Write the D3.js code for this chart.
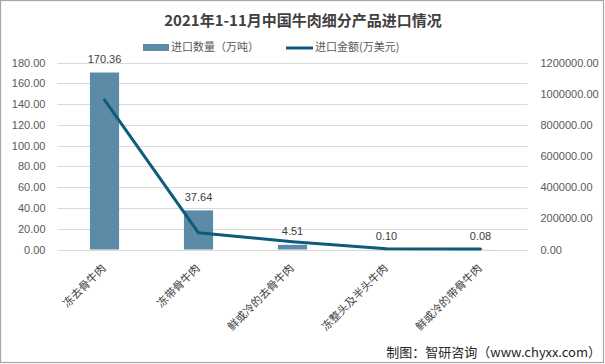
<!DOCTYPE html>
<html><head><meta charset="utf-8">
<script src="https://cdn.jsdelivr.net/npm/d3@7"></script>
<style>
html,body{margin:0;padding:0;background:#fff;}
svg{display:block;}
text{font-family:"Liberation Sans","Noto Sans CJK SC",sans-serif;}
.cjk{font-family:"Noto Sans CJK SC","Noto Sans",sans-serif;}
</style></head>
<body>
<svg id="chart" width="605" height="364"></svg>
<script>
const categories = ["冻去骨牛肉","冻带骨牛肉","鲜或冷的去骨牛肉","冻整头及半头牛肉","鲜或冷的带骨牛肉"];
const quantity = [170.36, 37.64, 4.51, 0.10, 0.08];   // 进口数量（万吨）
const amount = [960000, 107000, 50000, 5000, 3000];   // 进口金额(万美元)
const leftTicks = [0,20,40,60,80,100,120,140,160,180];
const rightTicks = [0,200000,400000,600000,800000,1000000,1200000];
const title = "2021年1-11月中国牛肉细分产品进口情况";
const legendNames = ["进口数量（万吨）","进口金额(万美元)"];
const source = "制图：智研咨询（www.chyxx.com）";

const svg = d3.select("#chart");
const W = 605, H = 364;
const barColor = "#5b8ba6", lineColor = "#0e5b7a";

// border
svg.append("rect").attr("x",0.5).attr("y",0.5).attr("width",W-2).attr("height",H-2)
  .attr("fill","none").attr("stroke","#a6a6a6").attr("stroke-width",1.2);

const x = d3.scaleBand().domain(categories).range([57.5,527.5]).paddingInner(0.69).paddingOuter(0.345);
const yL = d3.scaleLinear().domain([0,180]).range([249.5,62.5]);
const yR = d3.scaleLinear().domain([0,1200000]).range([249.5,62.5]);

// gridlines
svg.append("g").selectAll("line").data(leftTicks).join("line")
  .attr("x1",57.5).attr("x2",527.5)
  .attr("y1",d=>Math.round(yL(d))+0.5).attr("y2",d=>Math.round(yL(d))+0.5)
  .attr("stroke","#d9d9d9").attr("stroke-width",1);

// left axis
const axL = d3.axisLeft(yL).tickValues(leftTicks).tickFormat(d=>d3.format(".2f")(d)).tickSize(0).tickPadding(12);
const gL = svg.append("g").attr("transform","translate(57.5,0)").call(axL);
gL.select(".domain").remove();
gL.selectAll("text").attr("fill","#595959").style("font-size","11px").attr("font-family","Liberation Sans");

// right axis
const axR = d3.axisRight(yR).tickValues(rightTicks).tickFormat(d=>d3.format(".2f")(d)).tickSize(0).tickPadding(13);
const gR = svg.append("g").attr("transform","translate(527.5,0)").call(axR);
gR.select(".domain").remove();
gR.selectAll("text").attr("fill","#595959").style("font-size","11px").attr("font-family","Liberation Sans");

// bars
svg.append("g").selectAll("rect").data(quantity).join("rect")
  .attr("x",(d,i)=>x(categories[i])).attr("width",x.bandwidth())
  .attr("y",d=>yL(d)).attr("height",d=>yL(0)-yL(d))
  .attr("fill",barColor);

// bar labels
svg.append("g").selectAll("text").data(quantity).join("text")
  .attr("x",(d,i)=>x(categories[i])+x.bandwidth()/2)
  .attr("y",d=>yL(d)-9.5)
  .attr("text-anchor","middle").attr("fill","#404040").style("font-size","11px")
  .text(d=>d3.format(".2f")(d));

// line
const line = d3.line().x((d,i)=>x(categories[i])+x.bandwidth()/2).y(d=>yR(d));
svg.append("path").datum(amount).attr("d",line)
  .attr("fill","none").attr("stroke",lineColor).attr("stroke-width",3).attr("stroke-linejoin","round").attr("stroke-linecap","round");

// x labels
svg.append("g").selectAll("text").data(categories).join("text")
  .attr("class","cjk")
  .attr("transform",d=>`translate(${x(d)+x.bandwidth()/2+2},269) rotate(-45)`)
  .attr("text-anchor","end").attr("fill","#404040").style("font-size","11px")
  .text(d=>d);

// title
svg.append("text").attr("class","cjk").attr("x",303).attr("y",26).attr("text-anchor","middle")
  .attr("fill","#404040").style("font-size","15px").style("font-weight","bold").text(title);

// legend
const lg = svg.append("g");
lg.append("rect").attr("x",143).attr("y",44).attr("width",26).attr("height",7).attr("fill",barColor);
lg.append("text").attr("class","cjk").attr("x",171).attr("y",51).attr("fill","#595959").style("font-size","11px").text(legendNames[0]);
lg.append("line").attr("x1",286).attr("x2",313).attr("y1",48).attr("y2",48).attr("stroke",lineColor).attr("stroke-width",3);
lg.append("text").attr("class","cjk").attr("x",315).attr("y",51).attr("fill","#595959").style("font-size","11px").text(legendNames[1]);

// source
svg.append("text").attr("class","cjk").attr("x",601).attr("y",357).attr("text-anchor","end")
  .attr("fill","#262626").style("font-size","13px").text(source);
</script>
</body></html>
